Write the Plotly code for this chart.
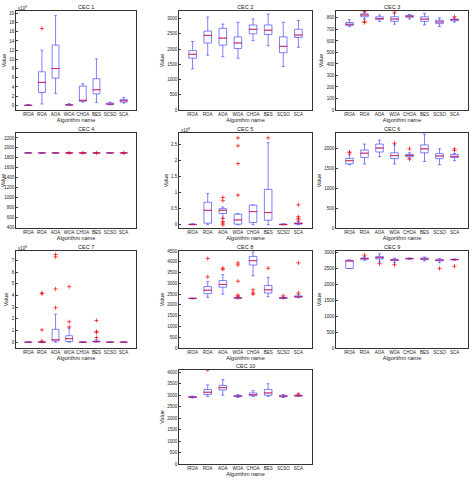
import plotly.graph_objects as go

ALGS = ["IROA", "ROA", "AOA", "WOA", "CHOA", "BES", "SCSO", "SCA"]
TITLES = ["CEC 1", "CEC 2", "CEC 3", "CEC 4", "CEC 5", "CEC 6", "CEC 7", "CEC 8", "CEC 9", "CEC 10"]
EXPONENTS = ["9", None, None, None, "8", None, "8", None, None, None]

# per panel: [q1, median, q3, lower whisker, upper whisker] for each algorithm
STATS = [
    [[0, 0, 0.1, 0, 0.2], [2.8, 5, 7.3, 0.3, 12], [5.9, 8, 13.1, 2.6, 19.5], [0.05, 0.1, 0.2, 0, 0.4],
     [0.9, 1.1, 4.2, 0.7, 4.7], [2.5, 3.4, 5.8, 0.6, 10.1], [0.2, 0.3, 0.5, 0.1, 0.7], [0.7, 1.0, 1.3, 0.5, 1.7]],
    [[1700, 1830, 1950, 1350, 2250], [2200, 2450, 2590, 1800, 3050], [2130, 2360, 2680, 1750, 2820], [2020, 2200, 2400, 1700, 2880],
     [2500, 2650, 2790, 2280, 2990], [2480, 2620, 2790, 2110, 3150], [1880, 2090, 2400, 1430, 2880], [2380, 2460, 2650, 2060, 2940]],
    [[735, 745, 760, 725, 785], [810, 825, 835, 790, 850], [785, 795, 810, 770, 825], [770, 790, 810, 745, 840],
     [805, 815, 822, 790, 830], [770, 790, 810, 740, 840], [750, 765, 780, 725, 800], [775, 785, 790, 765, 800]],
    [[1898, 1900, 1901, 1897, 1902]] * 8,
    [[0, 0.01, 0.02, 0, 0.03], [0.05, 0.45, 0.7, 0, 0.97], [0.35, 0.45, 0.5, 0.2, 0.55], [0.02, 0.15, 0.33, 0, 0.35],
     [0.07, 0.41, 0.61, 0, 0.62], [0.14, 0.38, 1.1, 0, 2.55], [0, 0.01, 0.02, 0, 0.03], [0.02, 0.04, 0.06, 0, 0.1]],
    [[1620, 1700, 1760, 1600, 1850], [1780, 1890, 1970, 1620, 2120], [1920, 2020, 2120, 1800, 2220], [1750, 1830, 1900, 1620, 2100],
     [1800, 1830, 1860, 1760, 1900], [1900, 2000, 2100, 1680, 2370], [1750, 1820, 1880, 1600, 2000], [1780, 1810, 1860, 1700, 1880]],
    [[0, 0, 0.01, 0, 0.02], [0, 0, 0.02, 0, 0.05], [0.1, 0.2, 1.1, 0, 2.4], [0.05, 0.3, 0.55, 0, 1.2],
     [0, 0, 0.01, 0, 0.02], [0.02, 0.05, 0.1, 0, 0.2], [0, 0, 0.01, 0, 0.02], [0, 0, 0.01, 0, 0.02]],
    [[2290, 2300, 2310, 2280, 2320], [2520, 2680, 2850, 2350, 3080], [2820, 2950, 3130, 2500, 3400], [2310, 2320, 2340, 2280, 2360],
     [3850, 4050, 4250, 3350, 4450], [2550, 2700, 2900, 2380, 3280], [2300, 2320, 2340, 2280, 2370], [2360, 2380, 2420, 2330, 2500]],
    [[2500, 2740, 2760, 2500, 2770], [2790, 2810, 2830, 2760, 2870], [2800, 2840, 2880, 2700, 2960], [2750, 2770, 2790, 2680, 2820],
     [2800, 2810, 2820, 2790, 2830], [2780, 2800, 2830, 2740, 2860], [2740, 2760, 2790, 2680, 2810], [2770, 2780, 2790, 2760, 2800]],
    [[2900, 2920, 2940, 2880, 2960], [3030, 3130, 3250, 2950, 3450], [3230, 3330, 3430, 3000, 3680], [2940, 2960, 2990, 2900, 3030],
     [2980, 3020, 3100, 2950, 3200], [3000, 3100, 3250, 2950, 3500], [2930, 2960, 2990, 2900, 3030], [2960, 2980, 3000, 2950, 3050]],
]

# outliers per panel: list of (algorithm, value)
OUTLIERS = [
    [("ROA", 16.7)],
    [],
    [("ROA", 760), ("ROA", 770), ("ROA", 855), ("WOA", 850), ("SCA", 810)],
    [("WOA", 1901), ("CHOA", 1901), ("BES", 1901), ("SCA", 1901)],
    [("AOA", 0.85), ("AOA", 0.75), ("AOA", 0.2), ("AOA", 0.1), ("AOA", 0.05), ("AOA", 0.0),
     ("WOA", 0.92), ("WOA", 1.9), ("WOA", 2.45), ("WOA", 2.7), ("BES", 2.7),
     ("SCA", 0.62), ("SCA", 0.25), ("SCA", 0.2), ("SCA", 0.15)],
    [("IROA", 1920), ("IROA", 1900), ("WOA", 2140), ("CHOA", 2000), ("CHOA", 1740), ("SCA", 2000), ("SCA", 1960)],
    [("ROA", 4.2), ("ROA", 4.15), ("ROA", 1.05), ("ROA", 0.1), ("AOA", 2.95), ("AOA", 4.55), ("AOA", 7.3), ("AOA", 7.5),
     ("WOA", 1.3), ("WOA", 1.75), ("WOA", 4.75), ("BES", 0.4), ("BES", 0.85), ("BES", 0.9), ("BES", 1.85)],
    [("ROA", 3300), ("ROA", 4150), ("AOA", 3700), ("AOA", 3650), ("WOA", 2400), ("WOA", 2450), ("WOA", 3100),
     ("WOA", 3850), ("WOA", 3950), ("CHOA", 2700), ("CHOA", 2550), ("CHOA", 2500), ("BES", 3700),
     ("SCSO", 2420), ("SCA", 2550), ("SCA", 3950)],
    [("ROA", 2920), ("AOA", 2650), ("WOA", 2620), ("SCSO", 2500), ("SCA", 2570)],
    [("ROA", 4100), ("SCA", 3050)],
]

RANGES = [[-1, 20.5], [0, 3250], [0, 860], [390, 2300], [-0.1, 2.85], [0, 2400], [-0.5, 7.8], [0, 4500], [0, 3050], [0, 4100]]
DTICKS = [2, 500, 100, 200, 0.5, 500, 1, 500, 500, 500]

W, H = 474, 482
XD = [(16, 136), (179, 312), (336, 468)]
YD = [(11, 110), (133, 228), (251, 348), (370, 464)]
POS = [(0, 0), (0, 1), (0, 2), (1, 0), (1, 1), (1, 2), (2, 0), (2, 1), (2, 2), (3, 1)]

fig = go.Figure()
font = dict(family="Liberation Sans", size=4.5, color="#222")
tfont = dict(family="Liberation Sans", size=5.5, color="#222")
for i, (r, c) in enumerate(POS):
    ax = "" if i == 0 else str(i + 1)
    xa, ya = "x" + ax, "y" + ax
    st = STATS[i]
    fig.add_trace(go.Box(x=ALGS, q1=[s[0] for s in st], median=[s[1] for s in st], q3=[s[2] for s in st],
                         lowerfence=[s[3] for s in st], upperfence=[s[4] for s in st],
                         xaxis=xa, yaxis=ya, fillcolor="rgba(0,0,0,0)", line=dict(color="#4a4aff", width=0.7),
                         whiskerwidth=0.4, width=0.5, showlegend=False, hoverinfo="skip"))
    fig.add_trace(go.Scatter(x=ALGS, y=[s[1] for s in st], mode="markers", xaxis=xa, yaxis=ya, hoverinfo="skip",
                             marker=dict(symbol="line-ew", size=6, line=dict(color="red", width=0.7)), showlegend=False))
    if OUTLIERS[i]:
        fig.add_trace(go.Scatter(x=[o[0] for o in OUTLIERS[i]], y=[o[1] for o in OUTLIERS[i]], mode="markers",
                                 xaxis=xa, yaxis=ya, showlegend=False, hoverinfo="skip",
                                 marker=dict(symbol="cross-thin", size=3, line=dict(color="red", width=0.7))))
    x0, x1 = XD[c]
    y0, y1 = YD[r]
    fig.layout["xaxis" + ax] = dict(domain=[x0 / W, x1 / W], anchor=ya, showline=True, mirror=True, linecolor="#333",
                                    linewidth=0.8, ticks="", tickfont=font, tickangle=0, showgrid=False, range=[-0.9, 7.9],
                                    automargin=False,
                                    title=dict(text="Algorithm name", font=tfont, standoff=0))
    fig.layout["yaxis" + ax] = dict(domain=[1 - y1 / H, 1 - y0 / H], anchor=xa, showline=True, mirror=True, linecolor="#333",
                                    linewidth=0.8, ticks="inside", ticklen=2, tickfont=font, showgrid=False, zeroline=False,
                                    range=RANGES[i], dtick=DTICKS[i], automargin=False,
                                    title=dict(text="Value", font=tfont, standoff=2))
    fig.add_annotation(text=TITLES[i], x=(x0 + x1) / 2 / W, y=1 - y0 / H, xref="paper", yref="paper",
                       yanchor="bottom", yshift=-1, showarrow=False, font=tfont)
    if EXPONENTS[i]:
        fig.add_annotation(text="x10<sup>" + EXPONENTS[i] + "</sup>", x=x0 / W, y=1 - y0 / H, xref="paper", yref="paper",
                           xanchor="left", yanchor="bottom", yshift=-2, showarrow=False, font=font)

fig.update_layout(width=W, height=H, margin=dict(l=0, r=0, t=0, b=0, autoexpand=False),
                  paper_bgcolor="white", plot_bgcolor="white")
fig.write_html("out.html", config={"displayModeBar": False},
               post_script="document.body.style.margin='0';document.body.style.overflow='hidden';")
